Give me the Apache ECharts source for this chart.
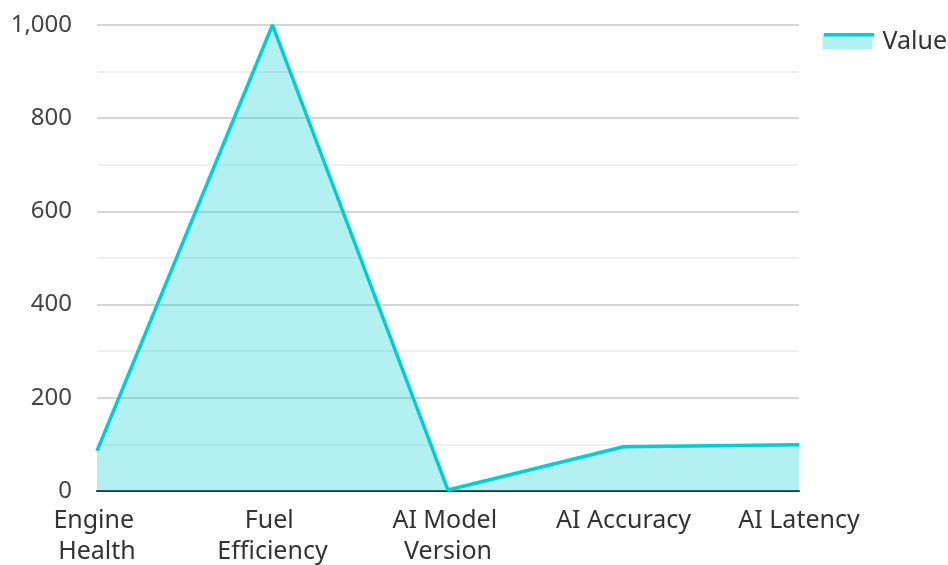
<!DOCTYPE html>
<html><head><meta charset="utf-8">
<script src="https://cdn.jsdelivr.net/npm/echarts@6/dist/echarts.min.js"></script>
<style>html,body{margin:0;padding:0;background:#fff}#c{width:948px;height:565px}</style>
</head><body><div id="c"></div>
<script>
const categories = ["Engine Health", "Fuel Efficiency", "AI Model Version", "AI Accuracy", "AI Latency"];
const values = [86, 1000, 2, 95, 99];
const seriesName = "Value";

const chart = echarts.init(document.getElementById('c'));
chart.setOption({
  animation: false,
  textStyle: { fontFamily: "Noto Sans" },
  legend: {
    right: -4, top: 24, itemWidth: 50, itemHeight: 16, itemGap: 9,
    icon: 'rect',
    itemStyle: { color: 'rgba(0,206,209,0.3)' },
    textStyle: { fontSize: 25, color: '#333', fontFamily: "Noto Sans", padding: [0, 0, 0, 5] },
    data: [seriesName]
  },
  graphic: [{
    type: 'rect', right: 74, top: 33, z: 100,
    shape: { width: 50, height: 3.5 },
    style: { fill: '#00CED1' }
  }],
  grid: { left: 97, right: 149, top: 25, bottom: 74, containLabel: false, outerBoundsMode: 'none' },
  xAxis: {
    type: 'category', boundaryGap: false, data: categories,
    axisLine: { lineStyle: { color: '#333', width: 2 } },
    axisTick: { show: false },
    axisLabel: { fontSize: 25, color: '#333', margin: 14, width: 150, overflow: 'break', lineHeight: 31, interval: 0, fontFamily: "Noto Sans" }
  },
  yAxis: {
    type: 'value', min: 0, max: 1000, interval: 200,
    axisLine: { show: false }, axisTick: { show: false },
    axisLabel: { fontSize: 24, color: '#444', margin: 25, fontFamily: "Noto Sans",
      formatter: v => v.toLocaleString('en-US') },
    splitLine: { lineStyle: { color: '#c8c8c8', width: 1.5 } },
    minorTick: { show: false, splitNumber: 2 },
    minorSplitLine: { show: true, lineStyle: { color: '#ebebeb', width: 1.5 } }
  },
  series: [{
    name: seriesName, type: 'line', data: values,
    showSymbol: false, symbol: 'none',
    lineStyle: { color: '#00CED1', width: 3.5 },
    itemStyle: { color: '#00CED1' },
    areaStyle: { color: '#00CED1', opacity: 0.3 }
  }]
});
</script></body></html>
